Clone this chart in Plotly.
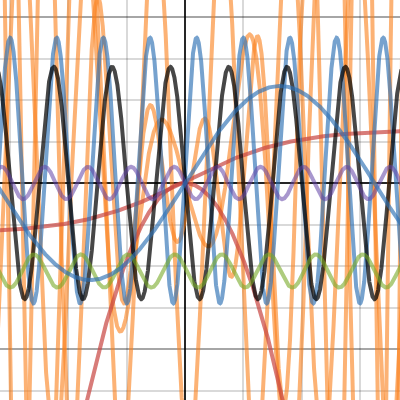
import numpy as np
import plotly.graph_objects as go

# parameters (x unit = 58.3 px, y unit = 41.5 px)
wave_names = ["blue_fast", "black", "purple", "green", "blue_slow"]
wave_amp = [3.2, -2.8, -0.39, 0.4, 2.34]
wave_period = [0.8, 1.0, 0.74, 0.806, 6.5]
wave_shift = [0.0, 0.0, 0.0, 0.43, 0.0]
wave_offset = [0.3, 0.0, 0.0, -2.12, 0.0]
wave_color = ["rgba(45,112,179,0.65)", "rgba(0,0,0,0.72)", "rgba(96,66,166,0.55)",
              "rgba(120,170,40,0.6)", "rgba(45,112,179,0.65)"]

tanh_amp, tanh_k, tanh_off = 1.25, 0.56, 0.04
parab_k = -1.85

# orange family: amplitude, period, phase, growth
orange_amp = [-1.25, 6.5, 1.4]
orange_period = [1.4, 1.15, 0.9]
orange_phase = [0.0, 0.35, 0.1]
orange_grow = [1.6, 0.0, 1.0]

x = np.linspace(-3.3, 3.8, 4000)
fig = go.Figure()

for a, p, s, o in zip(orange_amp, orange_period, orange_phase, orange_grow):
    y = a * np.sin(2 * np.pi * (x - s) / p) * (1 + o * x ** 2)
    fig.add_trace(go.Scatter(x=x, y=y, mode="lines",
                             line=dict(color="rgba(250,126,25,0.6)", width=4)))

fig.add_trace(go.Scatter(x=x, y=tanh_amp * np.tanh(tanh_k * x) + tanh_off, mode="lines",
                         line=dict(color="rgba(199,68,64,0.7)", width=4)))
fig.add_trace(go.Scatter(x=x, y=parab_k * x ** 2, mode="lines",
                         line=dict(color="rgba(199,68,64,0.7)", width=4)))

for n, a, p, s, o, c in zip(wave_names, wave_amp, wave_period, wave_shift, wave_offset, wave_color):
    y = a * np.sin(2 * np.pi * (x - s) / p) + o
    fig.add_trace(go.Scatter(x=x, y=y, mode="lines", name=n, line=dict(color=c, width=4)))

fig.update_layout(
    width=400, height=400, margin=dict(l=0, r=0, t=0, b=0),
    plot_bgcolor="white", paper_bgcolor="white", showlegend=False,
    xaxis=dict(range=[-185 / 58.3, 215 / 58.3], dtick=1, showticklabels=False,
               gridcolor="rgba(0,0,0,0.15)", gridwidth=2, zeroline=True,
               zerolinecolor="rgba(0,0,0,0.85)", zerolinewidth=2),
    yaxis=dict(range=[-217 / 41.5, 183 / 41.5], dtick=4, showticklabels=False,
               gridcolor="rgba(0,0,0,0.35)", gridwidth=2, zeroline=True,
               zerolinecolor="rgba(0,0,0,0.85)", zerolinewidth=2,
               minor=dict(dtick=1, gridcolor="rgba(0,0,0,0.15)", gridwidth=2, showgrid=True)),
)
fig.write_html("out.html", config={"displayModeBar": False},
               post_script="document.body.style.margin='0';")
